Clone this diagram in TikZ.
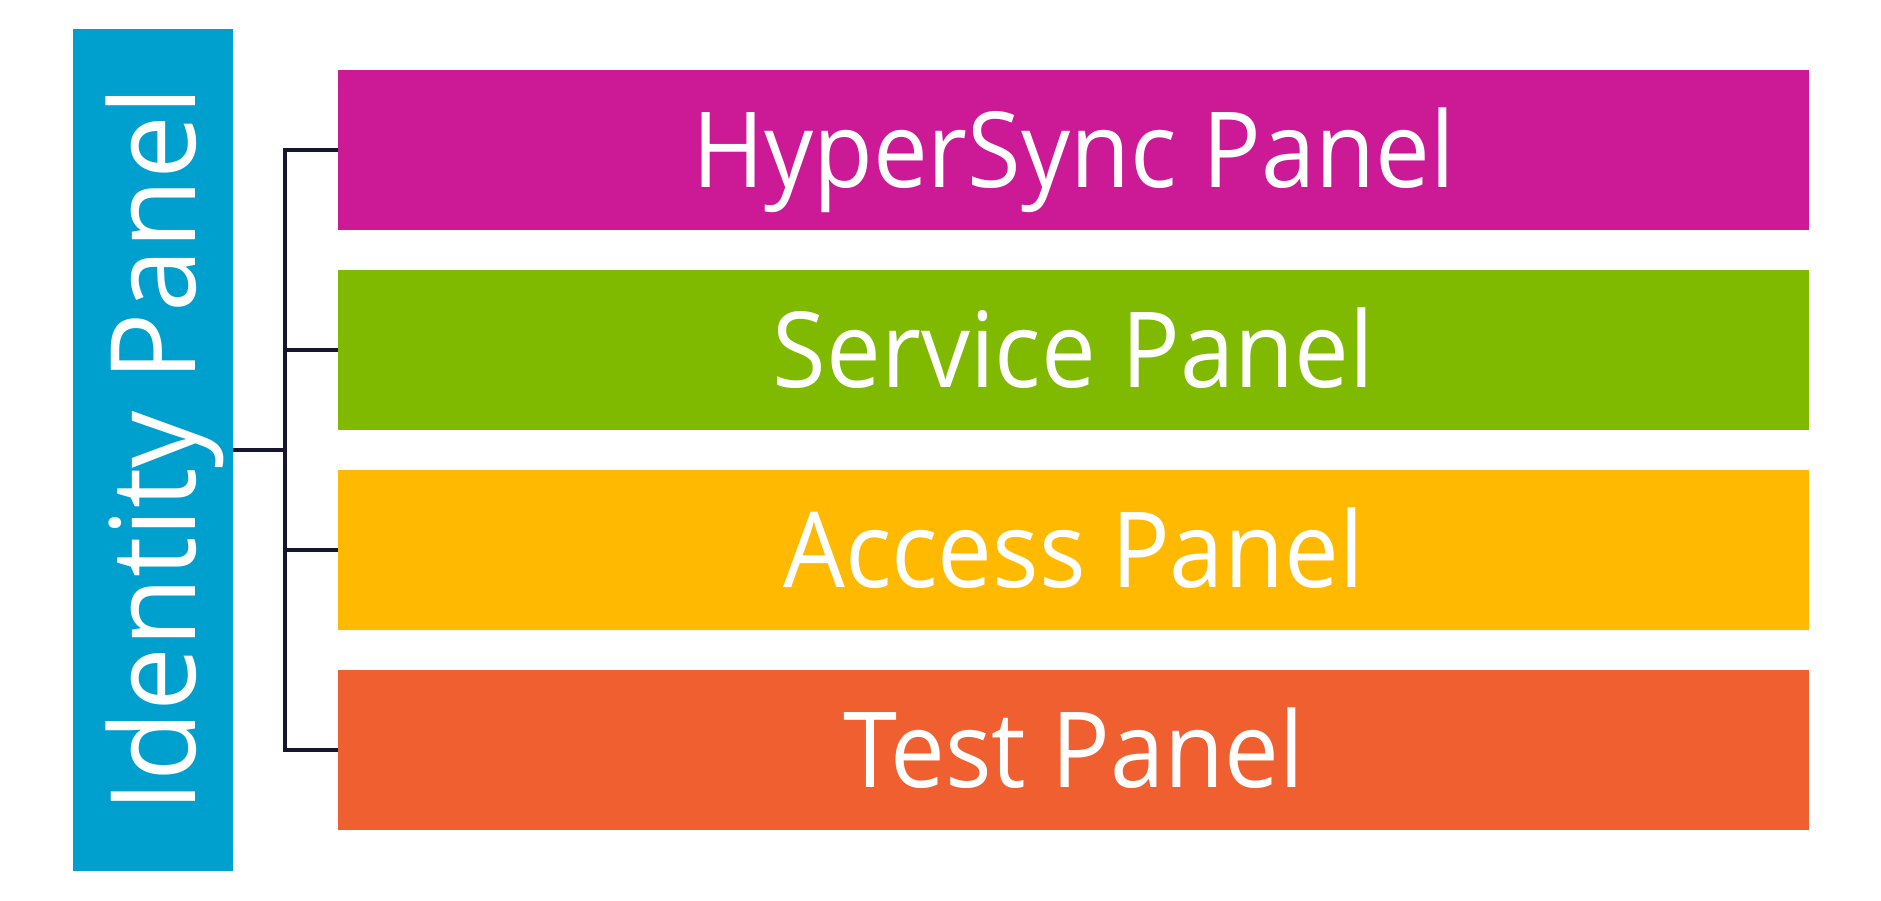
\documentclass[tikz,border=0pt]{standalone}
\usepackage{fontspec}
\setmainfont[FakeStretch=0.93]{Open Sans}
\newfontfamily\idfont[FakeStretch=0.965]{Open Sans}
\usepackage{tikz}
\usetikzlibrary{matrix}
\usepackage{xcolor}

\definecolor{idblue}{HTML}{00A0CE}
\definecolor{hypermag}{HTML}{CC1996}
\definecolor{servgreen}{HTML}{7FBA00}
\definecolor{accyellow}{HTML}{FFB900}
\definecolor{testorange}{HTML}{F05F30}
\definecolor{treeline}{HTML}{16162E}

\begin{document}
\begin{tikzpicture} [x=1pt, y=1pt,
    panel/.style={minimum width=1471pt, minimum height=160pt, inner sep=0pt, outer sep=0pt,
      text=white, text height=75pt, text depth=0pt, font=\fontsize{105}{120}\selectfont},
    tree/.style={draw=treeline, line width=4pt}
  ]
  \useasboundingbox (0,0) rectangle (1881,900);
  \node[fill=idblue, minimum width=842pt, minimum height=160pt, inner sep=0pt, outer sep=0pt,
    rotate=90, text=white, text height=84pt, text depth=0pt,
    font=\idfont\fontsize{118}{140}\selectfont] (id) at (153,450) {Identity Panel};
  \matrix (m) at (1073.5,450) [
    matrix of nodes
    , row sep=40pt
    , inner sep=0pt
    , nodes={panel}
  ]{
    |[fill=hypermag]| HyperSync Panel \\
    |[fill=servgreen]| Service Panel \\
    |[fill=accyellow]| Access Panel \\
    |[fill=testorange]| Test Panel \\
  };
  \coordinate (fork) at (285,450);
  \path[tree] (id) edge (fork);
  \foreach \i in {1,...,4}
    \draw[tree] (fork) |- (m-\i-1.west);
\end{tikzpicture}
\end{document}
